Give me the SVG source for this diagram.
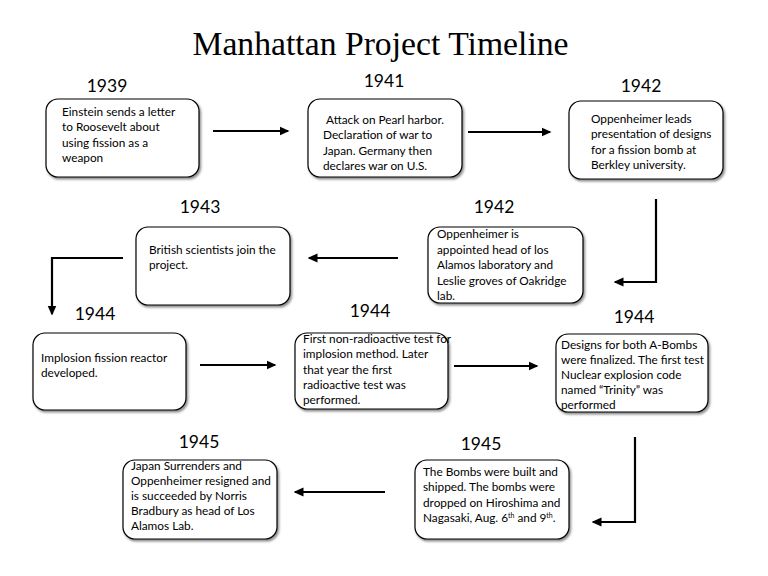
<svg xmlns="http://www.w3.org/2000/svg" width="768" height="576" viewBox="0 0 768 576">
<style>
.box{fill:#fff;stroke:#000;stroke-width:1.2;filter:url(#sh)}
.yr{font-family:Lato,"Liberation Sans",sans-serif;font-size:17.5px;fill:#000;text-anchor:middle}
.tx{font-family:Lato,"Liberation Sans",sans-serif;font-size:11.8px;fill:#000}
.title{font-family:"Liberation Serif","Times New Roman",serif;font-size:33.7px;fill:#000;text-anchor:middle}
.con{fill:none;stroke:#000;stroke-width:2.2;marker-end:url(#ah)}
.sup{font-size:7px}
</style>
<defs>
<filter id="sh" x="-10%" y="-10%" width="130%" height="140%">
<feDropShadow dx="1.5" dy="2" stdDeviation="1.2" flood-color="#000" flood-opacity="0.45"/>
</filter>
<marker id="ah" markerUnits="userSpaceOnUse" markerWidth="10" markerHeight="10" refX="8.5" refY="5" orient="auto">
<path d="M0,0.5 L10,5 L0,9.5 z" fill="#000"/>
</marker>
</defs>
<rect width="768" height="576" fill="#fff"/>
<text class="title" x="380.5" y="55">Manhattan Project Timeline</text>

<g id="n1939">
<text class="yr" x="107" y="92">1939</text>
<rect class="box" x="46" y="99" width="153" height="78" rx="12"/>
<text class="tx" x="62" y="116">Einstein sends a letter</text>
<text class="tx" x="62" y="131.3">to Roosevelt about</text>
<text class="tx" x="62" y="146.6">using fission as a</text>
<text class="tx" x="62" y="162">weapon</text>
</g>

<g id="n1941">
<text class="yr" x="384" y="87">1941</text>
<rect class="box" x="308" y="99" width="154" height="78" rx="12"/>
<text class="tx" x="326" y="124">Attack on Pearl harbor.</text>
<text class="tx" x="323" y="139.3">Declaration of war to</text>
<text class="tx" x="323" y="154.6">Japan. Germany then</text>
<text class="tx" x="323" y="170">declares war on U.S.</text>
</g>

<g id="n1942a">
<text class="yr" x="641" y="92">1942</text>
<rect class="box" x="569" y="101" width="154" height="78" rx="12"/>
<text class="tx" x="591" y="123">Oppenheimer leads</text>
<text class="tx" x="591" y="138.3">presentation of designs</text>
<text class="tx" x="591" y="153.6">for a fission bomb at</text>
<text class="tx" x="591" y="169">Berkley university.</text>
</g>

<g id="n1942b">
<text class="yr" x="494" y="213">1942</text>
<rect class="box" x="428" y="227" width="155" height="76" rx="12"/>
<text class="tx" x="437" y="238">Oppenheimer is</text>
<text class="tx" x="437" y="253.5">appointed head of los</text>
<text class="tx" x="437" y="269">Alamos laboratory and</text>
<text class="tx" x="437" y="284.5">Leslie groves of Oakridge</text>
<text class="tx" x="437" y="300">lab.</text>
</g>

<g id="n1943">
<text class="yr" x="200" y="213">1943</text>
<rect class="box" x="136" y="227" width="154" height="78" rx="12"/>
<text class="tx" x="149" y="254">British scientists join the</text>
<text class="tx" x="149" y="269">project.</text>
</g>

<g id="n1944a">
<text class="yr" x="95" y="320">1944</text>
<rect class="box" x="33" y="333" width="153" height="77" rx="12"/>
<text class="tx" x="41" y="362">Implosion fission reactor</text>
<text class="tx" x="41" y="377">developed.</text>
</g>

<g id="n1944b">
<text class="yr" x="370" y="317">1944</text>
<rect class="box" x="295" y="333" width="153" height="76" rx="12"/>
<text class="tx" x="303" y="343">First non-radioactive test for</text>
<text class="tx" x="303" y="358.3">implosion method. Later</text>
<text class="tx" x="303" y="373.6">that year the first</text>
<text class="tx" x="303" y="389">radioactive test was</text>
<text class="tx" x="303" y="404">performed.</text>
</g>

<g id="n1944c">
<text class="yr" x="634" y="323">1944</text>
<rect class="box" x="556" y="334" width="152" height="78" rx="12"/>
<text class="tx" x="561" y="349">Designs for both A-Bombs</text>
<text class="tx" x="561" y="364">were finalized. The first test</text>
<text class="tx" x="561" y="379">Nuclear explosion code</text>
<text class="tx" x="561" y="394">named “Trinity” was</text>
<text class="tx" x="561" y="409">performed</text>
</g>

<g id="n1945b">
<text class="yr" x="481" y="450">1945</text>
<rect class="box" x="415" y="460" width="154" height="79" rx="12"/>
<text class="tx" x="423" y="476">The Bombs were built and</text>
<text class="tx" x="423" y="491">shipped. The bombs were</text>
<text class="tx" x="423" y="507">dropped on Hiroshima and</text>
<text class="tx" x="423" y="522">Nagasaki, Aug. 6<tspan class="sup" dy="-4">th</tspan><tspan dy="4"> and 9</tspan><tspan class="sup" dy="-4">th</tspan><tspan dy="4">.</tspan></text>
</g>

<g id="n1945a">
<text class="yr" x="199" y="448">1945</text>
<rect class="box" x="123" y="460" width="154" height="79" rx="12"/>
<text class="tx" x="131" y="470">Japan Surrenders and</text>
<text class="tx" x="131" y="485">Oppenheimer resigned and</text>
<text class="tx" x="131" y="500">is succeeded by Norris</text>
<text class="tx" x="131" y="515">Bradbury as head of Los</text>
<text class="tx" x="131" y="530">Alamos Lab.</text>
</g>

<g id="connectors">
<path class="con" d="M213,131 H288"/>
<path class="con" d="M468,132 H550"/>
<path class="con" d="M656,199 V282 H615"/>
<path class="con" d="M398,258 H309"/>
<path class="con" d="M123,258 H52 V314"/>
<path class="con" d="M200,365 H275"/>
<path class="con" d="M454,366 H537"/>
<path class="con" d="M635,437 V522 H593"/>
<path class="con" d="M385,492 H295"/>
</g>
</svg>
